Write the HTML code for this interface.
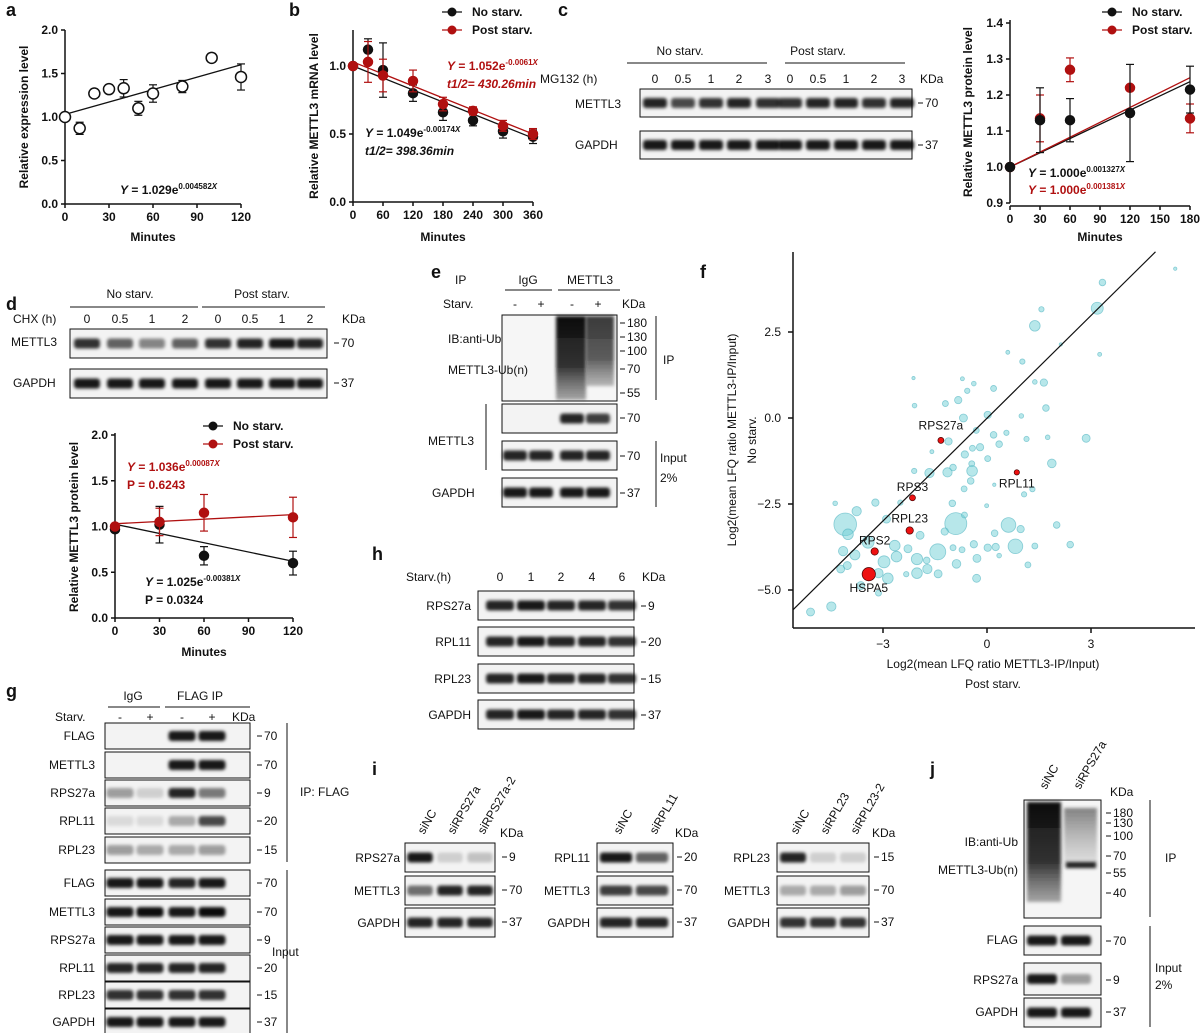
<!DOCTYPE html>
<html><head><meta charset="utf-8"><style>
html,body{margin:0;padding:0;background:#fff;}
svg{display:block;font-family:"Liberation Sans",Arial,sans-serif;}
</style></head><body>
<svg id="fig" width="1200" height="1033" viewBox="0 0 1200 1033" xmlns="http://www.w3.org/2000/svg">
<defs>
<filter id="bl" x="-20%" y="-60%" width="140%" height="220%"><feGaussianBlur stdDeviation="1.6"/></filter>
<linearGradient id="smear" x1="0" y1="0" x2="0" y2="1"><stop offset="0" stop-color="#000" stop-opacity="0.95"/><stop offset="0.6" stop-color="#111" stop-opacity="0.85"/><stop offset="1" stop-color="#555" stop-opacity="0.5"/></linearGradient>
<linearGradient id="smear2" x1="0" y1="0" x2="0" y2="1"><stop offset="0" stop-color="#333" stop-opacity="0.6"/><stop offset="1" stop-color="#999" stop-opacity="0.2"/></linearGradient>
</defs>
</svg>
<script>
// ---------- chart data ----------
const aMinutes=[0,10,20,30,40,50,60,80,100,120];
const aValues=[1.0,0.87,1.27,1.32,1.33,1.1,1.27,1.35,1.68,1.46];
const aErr=[0.03,0.07,0.03,0.05,0.1,0.08,0.1,0.07,0.05,0.15];
const aFit=[1.03,1.6];
const aTicksX=[0,30,60,90,120];
const aTicksY=[0,0.5,1.0,1.5,2.0];

const bMinutes=[0,30,60,120,180,240,300,360];
const bNoStarv=[1.0,1.12,0.97,0.8,0.66,0.6,0.52,0.48];
const bNoErr=[0.02,0.08,0.2,0.06,0.06,0.04,0.05,0.05];
const bPost=[1.0,1.03,0.93,0.89,0.72,0.67,0.56,0.5];
const bPostErr=[0.02,0.15,0.12,0.08,0.05,0.03,0.04,0.04];
const bFitNo=[1.0,0.47];
const bFitPost=[1.03,0.5];
const bTicksX=[0,60,120,180,240,300,360];
const bTicksY=[0,0.5,1.0];

const cMinutes=[0,30,60,120,180];
const cNoStarv=[1.0,1.13,1.13,1.15,1.215];
const cNoErr=[0,0.09,0.06,0.135,0.065];
const cPost=[1.0,1.135,1.27,1.22,1.135];
const cPostErr=[0,0.065,0.033,0,0.04];
const cFitNo=[1.0,1.237];
const cFitPost=[1.0,1.248];
const cTicksX=[0,30,60,90,120,150,180];
const cTicksY=[0.9,1.0,1.1,1.2,1.3,1.4];

const dMinutes=[0,30,60,120];
const dNoStarv=[0.97,1.02,0.68,0.6];
const dNoErr=[0.03,0.2,0.1,0.13];
const dPost=[1.0,1.05,1.15,1.1];
const dPostErr=[0.02,0.15,0.2,0.22];
const dFitNo=[1.025,0.62];
const dFitPost=[1.03,1.13];
const dTicksX=[0,30,60,90,120];
const dTicksY=[0,0.5,1.0,1.5,2.0];

const fX=[5.43,3.33,3.18,1.57,1.38,2.13,3.25,0.6,1.02,-2.12,-0.71,-0.38,-0.57,0.19,1.64,1.38,-0.83,-1.2,-2.09,1.7,-0.68,0.02,0.99,-0.31,0.19,0.56,1.14,1.75,2.86,0.35,-1.11,-1.59,-0.42,-0.2,-0.64,0.02,1.87,-0.44,-0.98,-1.14,-0.43,-1.66,-2.1,-0.47,0.21,-0.66,1.31,1.07,-0.01,-1.0,-3.22,-4.38,-3.76,-4.09,-0.9,0.62,2.01,0.97,-0.65,-2.5,-2.9,-4.01,-1.22,0.22,-1.93,0.82,1.38,2.4,-0.38,0.02,0.25,-0.29,0.35,-0.98,-1.42,-1.74,-2.02,-0.88,-0.72,-2.28,-2.66,-2.61,-2.97,-3.43,-4.15,-3.81,-4.03,-4.22,-3.13,-2.86,-2.33,-2.02,-1.72,-1.41,-0.3,1.18,-4.49,-5.09,-3.13,-3.64];
const fY=[4.34,3.94,3.19,3.16,2.68,2.14,1.85,1.91,1.64,1.16,1.14,1.0,0.79,0.86,1.03,1.05,0.52,0.42,0.36,0.29,0,0.09,0.06,-0.36,-0.49,-0.43,-0.61,-0.56,-0.59,-0.76,-0.68,-0.98,-0.88,-0.85,-1.06,-1.18,-1.32,-1.33,-1.44,-1.58,-1.54,-1.6,-1.54,-1.83,-1.94,-2.06,-2.07,-2.22,-2.55,-2.48,-2.46,-2.48,-2.71,-3.09,-3.07,-3.11,-3.11,-3.23,-2.82,-2.46,-2.94,-3.38,-3.3,-3.35,-3.41,-3.73,-3.72,-3.68,-3.67,-3.77,-3.75,-4.08,-4.0,-3.77,-3.89,-4.14,-4.1,-4.24,-3.83,-3.8,-3.71,-4.03,-4.18,-3.61,-3.87,-3.98,-4.29,-4.39,-4.51,-4.66,-4.54,-4.51,-4.39,-4.53,-4.66,-4.27,-5.48,-5.64,-5.09,-4.87];
const fSize=[5,10,18,8,16,5,6,6,8,5,6,7,8,9,11,7,11,9,7,10,12,11,7,9,10,8,8,7,12,10,11,6,9,11,11,9,13,9,10,14,16,14,8,10,5,9,8,8,6,10,11,7,14,34,33,22,10,11,9,8,12,16,11,10,12,22,9,10,11,11,11,12,7,9,24,10,17,13,9,12,16,16,18,18,14,15,12,12,14,16,8,16,14,12,12,9,14,12,9,12];
const fHitNames=['RPS27a','RPS3','RPL11','RPL23','RPS2','HSPA5'];
const fHitX=[-1.33,-2.15,0.86,-2.23,-3.24,-3.41];
const fHitY=[-0.65,-2.32,-1.58,-3.27,-3.88,-4.54];
const fHitSize=[9,9,8,11,11,20];
const fFitX=[-5.6,4.86];
const fFitY=[-5.58,4.83];
const fTicksX=[-3,0,3];
const fTicksY=[2.5,0.0,-2.5,-5.0];

// ---------- helpers ----------
const NS='http://www.w3.org/2000/svg';
const svg=document.getElementById('fig');
function mk(tag,attrs,name,parent){
  const el=document.createElementNS(NS,tag);
  for(const k in attrs) el.setAttribute(k,attrs[k]);
  
  
  (parent||svg).appendChild(el);
  return el;
}
function txt(x,y,s,name,o){
  o=o||{};
  const el=mk('text',{x:x,y:y,'font-size':o.fs||12,'font-weight':o.fw||'normal','text-anchor':o.a||'start',fill:o.fill||'#111','font-style':o.it?'italic':'normal'},name);
  if(o.rot!==undefined) el.setAttribute('transform','rotate('+o.rot+' '+x+' '+y+')');
  el.textContent=s;
  return el;
}
function line(x1,y1,x2,y2,name,o){o=o||{};return mk('line',{x1:x1,y1:y1,x2:x2,y2:y2,stroke:o.c||'#111','stroke-width':o.w||1.2},name);}
function scale(d0,d1,p0,p1){return v=>p0+(v-d0)*(p1-p0)/(d1-d0);}
function letter(x,y,s){txt(x,y,s,'panel-label-'+s,{fs:18,fw:'bold'});}

function axes(cfg){
  const sx=cfg.sx, sy=cfg.sy;
  line(cfg.xa0,cfg.yAxisY,cfg.xa1,cfg.yAxisY,cfg.id+'-x-axis',{w:1.5});
  line(cfg.xAxisX,cfg.ya0,cfg.xAxisX,cfg.ya1,cfg.id+'-y-axis',{w:1.5});
  cfg.tx.forEach(t=>{line(sx(t),cfg.yAxisY,sx(t),cfg.yAxisY+4,cfg.id+'-x-tick',{w:1.5});txt(sx(t),cfg.yAxisY+17,String(t),cfg.id+'-x-tick-label',{fw:'bold',fs:12,a:'middle'});});
  cfg.ty.forEach(t=>{line(cfg.xAxisX-4,sy(t),cfg.xAxisX,sy(t),cfg.id+'-y-tick',{w:1.5});txt(cfg.xAxisX-7,sy(t)+4,t.toFixed(1),cfg.id+'-y-tick-label',{fw:'bold',fs:12,a:'end'});});
}
function series(sx,sy,xs,ys,es,color,name,open){
  xs.forEach((x,i)=>{
    if(es[i]>0){
      line(sx(x),sy(ys[i]-es[i]),sx(x),sy(ys[i]+es[i]),name+'-error-bar',{c:color,w:1.2});
      line(sx(x)-4,sy(ys[i]+es[i]),sx(x)+4,sy(ys[i]+es[i]),name+'-error-cap',{c:color,w:1.2});
      line(sx(x)-4,sy(ys[i]-es[i]),sx(x)+4,sy(ys[i]-es[i]),name+'-error-cap',{c:color,w:1.2});
    }
    mk('circle',{cx:sx(x),cy:sy(ys[i]),r:open?5.5:4.5,fill:open?'#fff':color,stroke:open?'#111':color,'stroke-width':1.5},name+'-point');
  });
}
function fit(sx,sy,x0,x1,vals,color,name){line(sx(x0),sy(vals[0]),sx(x1),sy(vals[1]),name,{c:color,w:1.3});}
function legend(x,y,label,color){
  line(x-10,y,x+10,y,'legend-line',{c:color,w:1.3});
  mk('circle',{cx:x,cy:y,r:4.5,fill:color},'legend-marker');
  txt(x+20,y+4,label,'legend-entry',{fw:'bold',fs:12});
}
function eq(x,y,base,exp,color,name){
  const t=txt(x,y,'',name,{fw:'bold',fs:12,fill:color});
  const s1=document.createElementNS(NS,'tspan');s1.setAttribute('font-style','italic');s1.textContent='Y';t.appendChild(s1);
  const s2=document.createElementNS(NS,'tspan');s2.textContent=' = '+base+'e';t.appendChild(s2);
  const s3=document.createElementNS(NS,'tspan');s3.setAttribute('font-size','8');s3.setAttribute('dy','-5');s3.textContent=exp;t.appendChild(s3);
  const s4=document.createElementNS(NS,'tspan');s4.setAttribute('font-size','8');s4.setAttribute('font-style','italic');s4.textContent='X';t.appendChild(s4);
}

// ---------- panel a ----------
letter(6,16,'a');
(function(){
  const sx=scale(0,120,65,241), sy=scale(0,2,204,30);
  axes({id:'a',sx:sx,sy:sy,xa0:65,xa1:241,yAxisY:204,xAxisX:65,ya0:204,ya1:30,tx:aTicksX,ty:aTicksY});
  fit(sx,sy,0,120,aFit,'#111','a-fit-line');
  series(sx,sy,aMinutes,aValues,aErr,'#111','a-series',true);
  eq(120,194,'1.029','0.004582','#111','a-equation');
  txt(153,241,'Minutes','a-x-axis-title',{fw:'bold',fs:12,a:'middle'});
  txt(28,117,'Relative expression level','a-y-axis-title',{fw:'bold',fs:12,a:'middle',rot:-90});
})();

// ---------- panel b ----------
letter(289,16,'b');
(function(){
  const sx=scale(0,360,353,533), sy=scale(0,1,202,66);
  axes({id:'b',sx:sx,sy:sy,xa0:353,xa1:533,yAxisY:202,xAxisX:353,ya0:202,ya1:30,tx:bTicksX,ty:bTicksY});
  fit(sx,sy,0,360,bFitNo,'#111','b-fit-no-starv');
  fit(sx,sy,0,360,bFitPost,'#b01010','b-fit-post-starv');
  series(sx,sy,bMinutes,bNoStarv,bNoErr,'#111','b-no-starv');
  series(sx,sy,bMinutes,bPost,bPostErr,'#b01010','b-post-starv');
  legend(452,12,'No starv.','#111');
  legend(452,30,'Post starv.','#b01010');
  eq(447,70,'1.052','-0.0061','#b01010','b-equation-post');
  txt(447,88,'t1/2= 430.26min','b-half-life-post',{fw:'bold',fs:12,fill:'#b01010',it:true});
  eq(365,137,'1.049','-0.00174','#111','b-equation-no');
  txt(365,155,'t1/2= 398.36min','b-half-life-no',{fw:'bold',fs:12,it:true});
  txt(443,241,'Minutes','b-x-axis-title',{fw:'bold',fs:12,a:'middle'});
  txt(318,116,'Relative METTL3 mRNA level','b-y-axis-title',{fw:'bold',fs:12,a:'middle',rot:-90});
})();

// ---------- panel c chart ----------
(function(){
  const sx=scale(0,180,1010,1190), sy=scale(0.9,1.4,203,23);
  axes({id:'c',sx:sx,sy:sy,xa0:1010,xa1:1190,yAxisY:206,xAxisX:1010,ya0:203,ya1:20,tx:cTicksX,ty:cTicksY});
  fit(sx,sy,0,180,cFitNo,'#111','c-fit-no-starv');
  fit(sx,sy,0,180,cFitPost,'#b01010','c-fit-post-starv');
  series(sx,sy,cMinutes,cPost,cPostErr,'#b01010','c-post-starv');
  series(sx,sy,cMinutes,cNoStarv,cNoErr,'#111','c-no-starv');
  legend(1112,12,'No starv.','#111');
  legend(1112,30,'Post starv.','#b01010');
  eq(1028,177,'1.000','0.001327','#111','c-equation-no');
  eq(1028,194,'1.000','0.001381','#b01010','c-equation-post');
  txt(1100,241,'Minutes','c-x-axis-title',{fw:'bold',fs:12,a:'middle'});
  txt(972,112,'Relative METTL3 protein level','c-y-axis-title',{fw:'bold',fs:12,a:'middle',rot:-90});
})();

// ---------- blot helpers ----------
function blot(x,y,w,h,lanes,ints,name,o){
  o=o||{};
  mk('rect',{x:x,y:y,width:w,height:h,fill:o.bg||'#f3f3f3',stroke:'#111','stroke-width':1},name+'-membrane');
  const bw=o.bw||((lanes.length>1?(lanes[1]-lanes[0]):30)*0.82);
  const bh=o.bh||Math.min(10,h*0.38);
  lanes.forEach((cx,i)=>{
    if(ints[i]<=0) return;
    mk('rect',{x:cx-bw/2,y:y+h/2-bh/2+(o.dy||0),width:bw,height:bh,rx:3,fill:'#000','fill-opacity':ints[i],filter:'url(#bl)'},name+'-band');
  });
}
function kda(x,y,v,name){line(x-6,y,x-1,y,name+'-marker-tick',{w:1});txt(x+1,y+4,v,name+'-kda',{fs:12});}

// ---------- panel c blots ----------
letter(558,16,'c');
(function(){
  const lanes=[655,683,711,739,768,790,818,846,874,902];
  txt(680,55,'No starv.','c-group-no-starv',{a:'middle'});
  line(627,63,767,63,'c-group-line',{w:1});
  txt(818,55,'Post starv.','c-group-post-starv',{a:'middle'});
  line(785,63,905,63,'c-group-line',{w:1});
  txt(540,83,'MG132 (h)','c-mg132-label');
  ['0','0.5','1','2','3','0','0.5','1','2','3'].forEach((s,i)=>txt(lanes[i],83,s,'c-lane-label',{a:'middle'}));
  txt(920,83,'KDa','c-kda-header');
  txt(575,108,'METTL3','c-mettl3-label');
  blot(640,89,272,28,lanes,[0.85,0.7,0.8,0.85,0.8,0.8,0.85,0.85,0.8,0.85],'c-mettl3',{bw:24});
  kda(924,103,'70','c');
  txt(575,149,'GAPDH','c-gapdh-label');
  blot(640,131,272,28,lanes,[0.9,0.9,0.9,0.9,0.9,0.9,0.9,0.9,0.9,0.9],'c-gapdh',{bw:24});
  kda(924,145,'37','c');
})();

// ---------- panel d ----------
letter(6,310,'d');
(function(){
  const lanes=[87,120,152,185,218,250,282,310];
  txt(130,298,'No starv.','d-group-no-starv',{a:'middle'});
  line(70,307,198,307,'d-group-line',{w:1});
  txt(262,298,'Post starv.','d-group-post-starv',{a:'middle'});
  line(202,307,325,307,'d-group-line',{w:1});
  txt(13,323,'CHX (h)','d-chx-label');
  ['0','0.5','1','2','0','0.5','1','2'].forEach((s,i)=>txt(lanes[i],323,s,'d-lane-label',{a:'middle'}));
  txt(342,323,'KDa','d-kda-header');
  txt(11,346,'METTL3','d-mettl3-label');
  blot(70,329,257,29,lanes,[0.8,0.6,0.45,0.6,0.8,0.85,0.9,0.85],'d-mettl3',{bw:26});
  kda(340,343,'70','d');
  txt(13,387,'GAPDH','d-gapdh-label');
  blot(70,369,257,29,lanes,[0.9,0.9,0.9,0.9,0.9,0.9,0.9,0.9],'d-gapdh',{bw:26});
  kda(340,383,'37','d');

  const sx=scale(0,120,115,293), sy=scale(0,2,618,435);
  axes({id:'d',sx:sx,sy:sy,xa0:115,xa1:293,yAxisY:618,xAxisX:115,ya0:618,ya1:433,tx:dTicksX,ty:dTicksY});
  fit(sx,sy,0,120,dFitNo,'#111','d-fit-no-starv');
  fit(sx,sy,0,120,dFitPost,'#b01010','d-fit-post-starv');
  series(sx,sy,dMinutes,dNoStarv,dNoErr,'#111','d-no-starv');
  series(sx,sy,dMinutes,dPost,dPostErr,'#b01010','d-post-starv');
  legend(213,426,'No starv.','#111');
  legend(213,444,'Post starv.','#b01010');
  eq(127,471,'1.036','0.00087','#b01010','d-equation-post');
  txt(127,489,'P = 0.6243','d-p-value-post',{fw:'bold',fill:'#b01010'});
  eq(145,586,'1.025','-0.00381','#111','d-equation-no');
  txt(145,604,'P = 0.0324','d-p-value-no',{fw:'bold'});
  txt(204,656,'Minutes','d-x-axis-title',{fw:'bold',fs:12,a:'middle'});
  txt(78,527,'Relative METTL3 protein level','d-y-axis-title',{fw:'bold',fs:12,a:'middle',rot:-90});
})();

// ---------- panel e ----------
letter(431,278,'e');
(function(){
  const lanes=[515,541,572,598];
  txt(455,284,'IP','e-ip-header');
  txt(528,284,'IgG','e-igg-header',{a:'middle'});
  line(505,290,552,290,'e-group-line',{w:1});
  txt(590,284,'METTL3','e-mettl3-header',{a:'middle'});
  line(558,290,620,290,'e-group-line',{w:1});
  txt(443,308,'Starv.','e-starv-label');
  ['-','+','-','+'].forEach((s,i)=>txt(lanes[i],308,s,'e-lane-label',{a:'middle'}));
  txt(622,308,'KDa','e-kda-header');
  mk('rect',{x:502,y:315,width:115,height:86,fill:'#f6f6f6',stroke:'#111'},'e-ip-membrane');
  mk('rect',{x:556,y:316,width:30,height:84,fill:'url(#smear)',filter:'url(#bl)'},'e-ip-smear');
  mk('rect',{x:586,y:316,width:28,height:70,fill:'url(#smear)','fill-opacity':0.8,filter:'url(#bl)'},'e-ip-smear');
  [['180',323],['130',337],['100',351],['70',369],['55',393]].forEach(m=>kda(626,m[1],m[0],'e-ip'));
  txt(448,343,'IB:anti-Ub','e-ib-label');
  txt(448,374,'METTL3-Ub(n)','e-ub-label');
  line(656,316,656,400,'e-ip-bracket',{w:1});
  txt(663,364,'IP','e-ip-label');
  blot(502,404,115,29,lanes,[0,0,0.85,0.75],'e-mettl3-ip',{bw:24});
  kda(626,418,'70','e');
  blot(502,441,115,29,lanes,[0.85,0.85,0.85,0.85],'e-mettl3-input',{bw:24});
  kda(626,456,'70','e');
  txt(428,445,'METTL3','e-mettl3-label');
  line(486,404,486,470,'e-mettl3-bracket',{w:1});
  blot(502,478,115,29,lanes,[0.9,0.9,0.9,0.9],'e-gapdh',{bw:24});
  kda(626,493,'37','e');
  txt(432,497,'GAPDH','e-gapdh-label');
  line(656,441,656,507,'e-input-bracket',{w:1});
  txt(660,462,'Input','e-input-label');
  txt(660,482,'2%','e-input-percent');
})();

// ---------- panel f ----------
letter(700,278,'f');
(function(){
  const sx=scale(0,3,987,1091), sy=scale(0,2.5,418,332);
  line(793,252,793,628,'f-y-axis',{w:1.5});
  line(793,628,1195,628,'f-x-axis',{w:1.5});
  fTicksX.forEach(t=>{line(sx(t),628,sx(t),633,'f-x-tick',{w:1.5});txt(sx(t),648,(t<0?'\u2212'+(-t):String(t)),'f-x-tick-label',{a:'middle'});});
  fTicksY.forEach(t=>{line(788,sy(t),793,sy(t),'f-y-tick',{w:1.5});txt(781,sy(t)+4,(t<0?'\u2212'+(-t).toFixed(1):t.toFixed(1)),'f-y-tick-label',{a:'end'});});
  fX.forEach((x,i)=>{mk('circle',{cx:sx(x),cy:sy(fY[i]),r:fSize[i]/3,fill:'#6fd0d6','fill-opacity':0.5,stroke:'#4fb3c0','stroke-opacity':0.6,'stroke-width':0.8},'f-protein-bubble');});
  line(sx(fFitX[0]),sy(fFitY[0]),sx(fFitX[1]),sy(fFitY[1]),'f-diagonal-line',{w:1.2});
  const lab=[[0,-7,'middle'],[0,-7,'middle'],[0,15,'middle'],[0,-8,'middle'],[0,-7,'middle'],[0,18,'middle']];
  fHitX.forEach((x,i)=>{
    mk('circle',{cx:sx(x),cy:sy(fHitY[i]),r:fHitSize[i]/3,fill:'#ee1111',stroke:'#400','stroke-width':0.7},'f-hit-'+fHitNames[i]);
    txt(sx(x)+lab[i][0],sy(fHitY[i])+lab[i][1]-(i==0?4:0),fHitNames[i],'f-hit-label',{a:lab[i][2],fs:12});
  });
  txt(993,668,'Log2(mean LFQ ratio METTL3-IP/Input)','f-x-axis-title',{a:'middle'});
  txt(993,688,'Post starv.','f-x-axis-subtitle',{a:'middle'});
  txt(736,440,'Log2(mean LFQ ratio METTL3-IP/Input)','f-y-axis-title',{a:'middle',rot:-90});
  txt(756,440,'No starv.','f-y-axis-subtitle',{a:'middle',rot:-90});
})();

// ---------- panel g ----------
letter(6,697,'g');
(function(){
  const lanes=[120,150,182,212];
  txt(133,700,'IgG','g-igg-header',{a:'middle'});
  line(108,707,160,707,'g-group-line',{w:1});
  txt(200,700,'FLAG IP','g-flagip-header',{a:'middle'});
  line(165,707,250,707,'g-group-line',{w:1});
  txt(55,721,'Starv.','g-starv-label');
  ['-','+','-','+'].forEach((s,i)=>txt(lanes[i],721,s,'g-lane-label',{a:'middle'}));
  txt(232,721,'KDa','g-kda-header');
  const rows=[['FLAG',723,[0,0,0.9,0.9],'70'],['METTL3',752,[0,0,0.9,0.9],'70'],['RPS27a',780,[0.35,0.15,0.85,0.5],'9'],['RPL11',808,[0.1,0.1,0.3,0.7],'20'],['RPL23',837,[0.35,0.3,0.3,0.35],'15'],
   ['FLAG',870,[0.9,0.9,0.85,0.9],'70'],['METTL3',899,[0.9,0.95,0.9,0.95],'70'],['RPS27a',927,[0.9,0.9,0.9,0.9],'9'],['RPL11',955,[0.85,0.85,0.85,0.85],'20'],['RPL23',982,[0.8,0.8,0.8,0.8],'15'],['GAPDH',1009,[0.9,0.9,0.9,0.9],'37']];
  rows.forEach(r=>{
    blot(105,r[1],145,26,lanes,r[2],'g-'+r[0].toLowerCase(),{bw:27});
    txt(95,r[1]+17,r[0],'g-'+r[0].toLowerCase()+'-label',{a:'end'});
    kda(263,r[1]+13,r[3],'g');
  });
  line(287,723,287,862,'g-ip-bracket',{w:1});
  txt(300,796,'IP: FLAG','g-ip-label');
  line(287,870,287,1034,'g-input-bracket',{w:1});
  txt(272,956,'Input','g-input-label');
})();

// ---------- panel h ----------
letter(372,560,'h');
(function(){
  const lanes=[500,531,561,592,622];
  txt(406,581,'Starv.(h)','h-starv-label');
  ['0','1','2','4','6'].forEach((s,i)=>txt(lanes[i],581,s,'h-lane-label',{a:'middle'}));
  txt(642,581,'KDa','h-kda-header');
  const rows=[['RPS27a',591,'9'],['RPL11',627,'20'],['RPL23',664,'15'],['GAPDH',700,'37']];
  rows.forEach(r=>{
    blot(478,r[1],156,29,lanes,[0.85,0.9,0.85,0.85,0.8],'h-'+r[0].toLowerCase(),{bw:28});
    txt(471,r[1]+19,r[0],'h-'+r[0].toLowerCase()+'-label',{a:'end'});
    kda(647,r[1]+15,r[2],'h');
  });
})();

// ---------- panel i ----------
letter(372,775,'i');
function iPanel(id,x,w,lanes,lnames,rowInts,rowNames,kx,lx){
  lnames.forEach((s,i)=>txt(lanes[i]+4,835,s,id+'-lane-label',{rot:-60}));
  txt(kx-8,837,'KDa','i-kda-header');
  const ys=[843,876,908];
  const k=['9','70','37'];
  rowNames.forEach((rn,j)=>{
    blot(x,ys[j],w,29,lanes,rowInts[j],id+'-'+rn.toLowerCase(),{bw:(w/lanes.length)*0.85});
    txt(lx,ys[j]+19,rn,id+'-'+rn.toLowerCase()+'-label',{a:'end'});
    kda(kx,ys[j]+14,j==0?rowNames[0]=='RPL11'?'20':rowNames[0]=='RPL23'?'15':'9':k[j],id);
  });
}
iPanel('i1',405,90,[420,450,480],['siNC','siRPS27a','siRPS27a-2'],[[0.9,0.15,0.2],[0.55,0.85,0.85],[0.85,0.85,0.85]],['RPS27a','METTL3','GAPDH'],508,400);
iPanel('i2',597,76,[616,652],['siNC','siRPL11'],[[0.9,0.6],[0.75,0.7],[0.85,0.85]],['RPL11','METTL3','GAPDH'],683,590);
iPanel('i3',777,92,[793,823,853],['siNC','siRPL23','siRPL23-2'],[[0.85,0.15,0.15],[0.3,0.3,0.35],[0.8,0.8,0.8]],['RPL23','METTL3','GAPDH'],880,770);

// ---------- panel j ----------
letter(930,775,'j');
(function(){
  const lanes=[1042,1076];
  txt(1046,790,'siNC','j-lane-label',{rot:-60});
  txt(1080,790,'siRPS27a','j-lane-label',{rot:-60});
  txt(1110,796,'KDa','j-kda-header');
  mk('rect',{x:1024,y:800,width:77,height:118,fill:'#f5f5f5',stroke:'#111'},'j-ip-membrane');
  mk('rect',{x:1027,y:802,width:34,height:100,fill:'url(#smear)',filter:'url(#bl)'},'j-ip-smear');
  mk('rect',{x:1064,y:808,width:33,height:60,fill:'url(#smear2)',filter:'url(#bl)'},'j-ip-smear');
  mk('rect',{x:1066,y:862,width:30,height:6,fill:'#222',filter:'url(#bl)'},'j-ip-band');
  [['180',813],['130',823],['100',836],['70',856],['55',873],['40',893]].forEach(m=>kda(1112,m[1],m[0],'j-ip'));
  txt(1018,846,'IB:anti-Ub','j-ib-label',{a:'end'});
  txt(1018,874,'METTL3-Ub(n)','j-ub-label',{a:'end'});
  line(1150,800,1150,917,'j-ip-bracket',{w:1});
  txt(1165,862,'IP','j-ip-label');
  blot(1024,926,77,29,lanes,[0.9,0.9],'j-flag',{bw:30});
  txt(1018,944,'FLAG','j-flag-label',{a:'end'});
  kda(1112,941,'70','j');
  blot(1024,963,77,32,lanes,[0.9,0.35],'j-rps27a',{bw:30});
  txt(1018,984,'RPS27a','j-rps27a-label',{a:'end'});
  kda(1112,980,'9','j');
  blot(1024,998,77,29,lanes,[0.9,0.9],'j-gapdh',{bw:30});
  txt(1018,1016,'GAPDH','j-gapdh-label',{a:'end'});
  kda(1112,1012,'37','j');
  line(1150,926,1150,1027,'j-input-bracket',{w:1});
  txt(1155,972,'Input','j-input-label');
  txt(1155,989,'2%','j-input-percent');
})();
</script>
</body></html>
